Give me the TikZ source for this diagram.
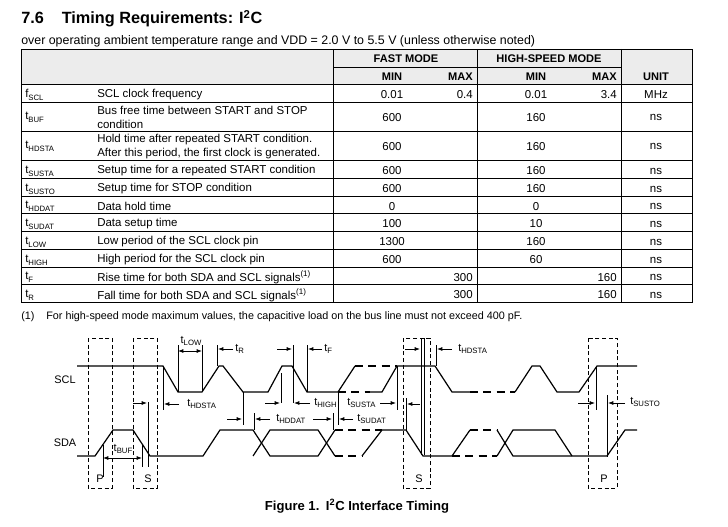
\documentclass[tikz,border=0pt]{standalone}
\usepackage{fontspec}
\setmainfont{Liberation Sans}
\usetikzlibrary{arrows.meta}
\newcommand\tsb[2]{#1\raisebox{-0.45ex}{\fontsize{5.8}{6}\selectfont #2}}
\begin{document}
\begin{tikzpicture}[x=0.75pt,y=-0.75pt,
 txt/.style={font=\fontsize{8.6}{10}\selectfont, inner sep=0},
 hdr/.style={font=\bfseries\fontsize{8.3}{9}\selectfont, inner sep=0},
 lab/.style={font=\fontsize{8.2}{9}\selectfont, inner sep=0},
 grid/.style={line width=0.6pt},
 wave/.style={line width=0.9pt},
 dwave/.style={wave, dash pattern=on 6pt off 4pt},
 boxd/.style={line width=0.7pt, dash pattern=on 3pt off 2pt},
 mk/.style={line width=0.7pt},
 ar/.style={line width=0.6pt,-{Latex[length=4pt,width=3pt]}},
 dar/.style={line width=0.6pt,{Latex[length=4pt,width=3pt]}-{Latex[length=4pt,width=3pt]}}]
\useasboundingbox (0,0) rectangle (728,527);
% title
\node[anchor=base west, font=\bfseries\fontsize{12.2}{14}\selectfont, inner sep=0] (title) at (21,24) {7.6\hspace{1.1em}Timing Requirements: I\textsuperscript{2}C};
\node[anchor=base west, font=\fontsize{9.3}{11}\selectfont, inner sep=0] (sub) at (21,45) {over operating ambient temperature range and VDD = 2.0 V to 5.5 V (unless otherwise noted)};
% table
\fill[gray!15] (21,49) rectangle (692,84);
\draw[grid] (21,49) rectangle (692,302);
\foreach \yy in {84,102,131,160,178,196,213,231,249,267,284} \draw[grid] (21,\yy) -- (692,\yy);
\draw[grid] (333,67) -- (621,67);
\draw[grid] (333,49) -- (333,302);
\draw[grid] (477,49) -- (477,302);
\draw[grid] (621,49) -- (621,302);
\node[hdr] (hfast) at (406,58.5) {FAST MODE};
\node[hdr] (hhs) at (549,58.5) {HIGH-SPEED MODE};
\node[hdr] (hmin1) at (392,76.5) {MIN};
\node[hdr,anchor=east] (hmax1) at (473,76.5) {MAX};
\node[hdr] (hmin2) at (536,76.5) {MIN};
\node[hdr,anchor=east] (hmax2) at (617,76.5) {MAX};
\node[hdr] (hunit) at (656,76.5) {UNIT};
\foreach \i/\yc/\pa/\pb/\de/\fa/\fb/\ha/\hb/\un in {
 1/95/f/SCL/SCL clock frequency/0.01/0.4/0.01/3.4/MHz,
 2/117.5/t/BUF/{Bus free time between START and STOP\\condition}/600//160//ns,
 3/146.5/t/HDSTA/{Hold time after repeated START condition.\\After this period, the first clock is generated.}/600//160//ns,
 4/171/t/SUSTA/Setup time for a repeated START condition/600//160//ns,
 5/189/t/SUSTO/Setup time for STOP condition/600//160//ns,
 6/206.5/t/HDDAT/Data hold time/0//0//ns,
 7/224/t/SUDAT/Data setup time/100//10//ns,
 8/242/t/LOW/Low period of the SCL clock pin/1300//160//ns,
 9/260/t/HIGH/High period for the SCL clock pin/600//60//ns,
 10/277.5/t/F/Rise time for both SDA and SCL signals\textsuperscript{(1)}//300//160/ns,
 11/295/t/R/Fall time for both SDA and SCL signals\textsuperscript{(1)}//300//160/ns}{
 \node[txt,anchor=west] (p\i) at (25,\yc) {\tsb{\pa}{\pb}};
 \node[txt,anchor=west,align=left] (d\i) at (97,\yc) {\de};
 \node[txt] (fa\i) at (392,\yc) {\fa};
 \node[txt,anchor=east] (fb\i) at (473,\yc) {\fb};
 \node[txt] (ha\i) at (536,\yc) {\ha};
 \node[txt,anchor=east] (hb\i) at (617,\yc) {\hb};
 \node[txt] (u\i) at (656,\yc) {\un};
}
\node[txt,font=\fontsize{8.1}{10}\selectfont,anchor=base west] (foot) at (21,320) {(1)\hspace{1.1em}For high-speed mode maximum values, the capacitive load on the bus line must not exceed 400 pF.};
% dashed boxes
\draw[boxd] (88,338) rectangle (112,488);
\draw[boxd] (133,338) rectangle (157,488);
\draw[boxd] (403,338) rectangle (430,488);
\draw[boxd] (588,338) rectangle (617,488);
% SCL
\draw[wave] (77,366) -- (163,366) -- (178,392) -- (202,392) -- (219,366) -- (223,366) -- (243,392) -- (268,392) -- (282,366) -- (292,366) -- (307,392) -- (338,392) -- (355,366);
\draw[dwave] (355,366) -- (397,366);
\draw[dwave] (338,392) -- (370,392);
\draw[wave] (370,392) -- (382,392) -- (397,366) -- (435,366) -- (452,392) -- (470,392);
\draw[dwave] (470,392) -- (515,392);
\draw[wave] (515,392) -- (532,366) -- (540,366) -- (557,392) -- (579,392) -- (597,366) -- (637,366);
% SDA
\draw[wave] (77,456) -- (95,456) -- (113,430) -- (133,430) -- (150,456) -- (203,456) -- (220,430) -- (253,430) -- (270,456) -- (318,456) -- (335,430);
\draw[wave] (253,456) -- (270,430) -- (318,430) -- (335,456);
\draw[dwave] (335,430) -- (382,430);
\draw[dwave] (335,456) -- (362,456);
\draw[wave] (362,456) -- (382,430) -- (406,430) -- (423,456) -- (452,456) -- (470,430);
\draw[dwave] (470,430) -- (497,430);
\draw[dwave] (452,456) -- (497,456);
\draw[wave] (497,430) -- (513,456) -- (607,456) -- (625,430) -- (637,430);
\draw[wave] (497,456) -- (513,430) -- (555,430) -- (572,456);
% labels
\node[lab] (scl) at (65,380) {SCL};
\node[lab] (sda) at (65,443) {SDA};
\node[lab] (p1) at (100,479) {P};
\node[lab] (s1) at (148,479) {S};
\node[lab] (s2) at (419,479) {S};
\node[lab] (p2) at (604,479) {P};
% tLOW
\draw[mk] (178,345) -- (178,392); \draw[mk] (202,345) -- (202,392);
\draw[dar] (178,351) -- (202,351);
\node[lab] (tlow) at (191,341) {\tsb{t}{LOW}};
% tR
\draw[mk] (217,345) -- (217,366);
\draw[ar] (233,349) -- (218,349);
\node[lab,anchor=west] (tr) at (235,349) {\tsb{t}{R}};
% tF
\draw[mk] (293,345) -- (293,403); \draw[mk] (307,345) -- (307,392);
\draw[ar] (277,349) -- (292,349); \draw[ar] (322,349) -- (308,349);
\node[lab,anchor=west] (tf) at (324,349) {\tsb{t}{F}};
% tHDSTA 1
\draw[mk] (163,366) -- (163,410);
\draw[ar] (179,404) -- (164,404);
\node[lab,anchor=west] (thdsta1) at (187,404) {\tsb{t}{HDSTA}};
\draw[mk] (148,402) -- (148,467);
\draw[ar] (133,403) -- (147,403);
% tBUF
\draw[mk] (103,445) -- (103,477); \draw[mk] (142,445) -- (142,467);
\draw[dar] (103,458) -- (142,458);
\node[lab] (tbuf) at (123,449) {\tsb{t}{BUF}};
% tHIGH
\draw[mk] (281,373) -- (281,403);
\draw[ar] (265,403) -- (280,403); \draw[ar] (310,403) -- (294,403);
\node[lab,anchor=west] (thigh) at (314,403) {\tsb{t}{HIGH}};
% tHDDAT
\draw[mk] (243,392) -- (243,425);
\draw[ar] (227,419) -- (242,419);
\draw[mk] (254,413) -- (254,430);
\draw[ar] (270,419) -- (255,419);
\node[lab,anchor=west] (thddat) at (276,419) {\tsb{t}{HDDAT}};
\draw[ar] (313,419) -- (332,419);
\draw[mk] (333,413) -- (333,430);
% tSUDAT
\draw[mk] (338,392) -- (338,425);
\draw[ar] (353,419) -- (339,419);
\node[lab,anchor=west] (tsudat) at (357,419) {\tsb{t}{SUDAT}};
% tSUSTA
\node[lab,anchor=west] (tsusta) at (347,403) {\tsb{t}{SUSTA}};
\draw[ar] (380,403) -- (396,403);
\draw[mk] (397,366) -- (397,410);
\draw[mk] (406,398) -- (406,430);
\draw[ar] (420,404) -- (407,404);
% tHDSTA 2
\draw[mk] (421.7,338) -- (421.7,455); \draw[mk] (424.3,338) -- (424.3,455);
\draw[ar] (405,349) -- (420,349);
\draw[mk] (436,345) -- (436,366);
\draw[ar] (452,349) -- (437,349);
\node[lab,anchor=west] (thdsta2) at (458,349) {\tsb{t}{HDSTA}};
% tSUSTO
\draw[mk] (596,366) -- (596,410);
\draw[ar] (578,403) -- (595,403);
\draw[mk] (607,395) -- (607,457);
\draw[ar] (625,403) -- (608,403);
\node[lab,anchor=west] (tsusto) at (630,402) {\tsb{t}{SUSTO}};
% caption
\node[font=\bfseries\fontsize{9.8}{11}\selectfont, inner sep=0] (cap) at (357,506) {Figure 1.\hspace{0.5em}I\textsuperscript{2}C Interface Timing};
\end{tikzpicture}
\end{document}
